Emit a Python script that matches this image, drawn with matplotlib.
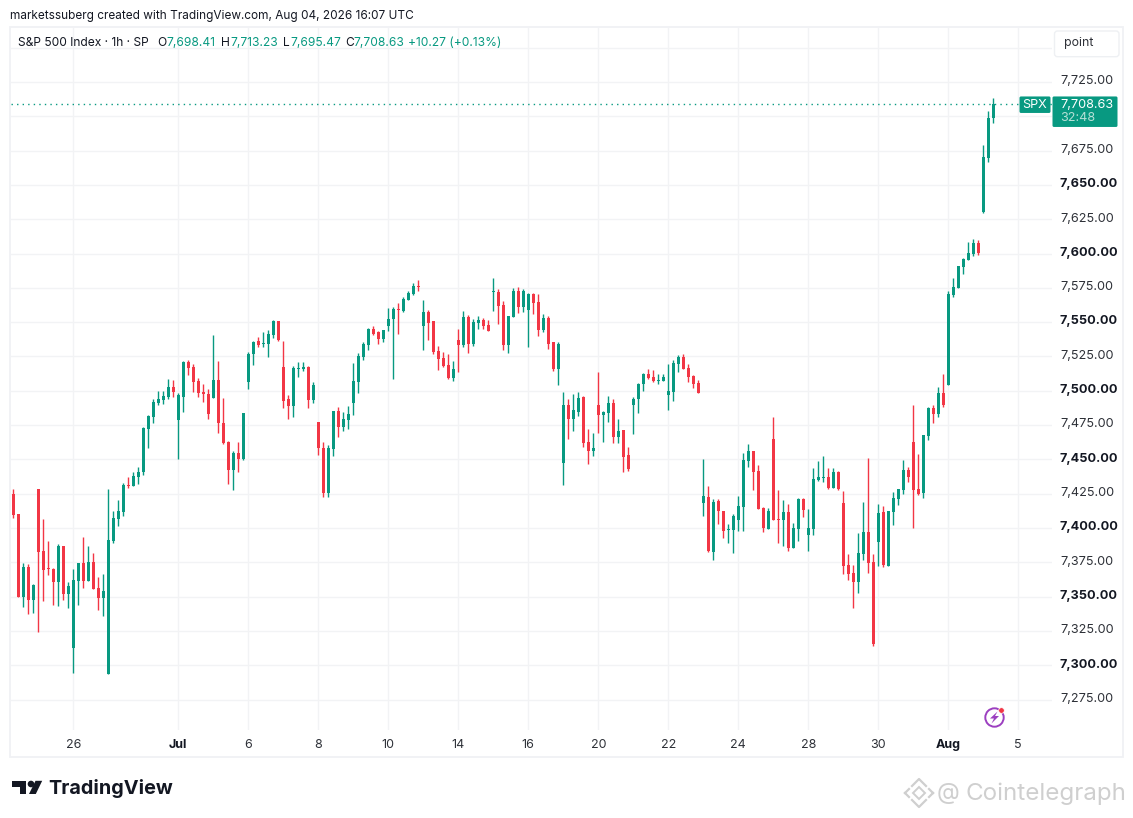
import numpy as np
import matplotlib
matplotlib.use("Agg")
import matplotlib.pyplot as plt
from matplotlib.patches import Rectangle, FancyBboxPatch, Circle, Polygon

# SPX 1h candles
opens = [
    7424.7,7410.2,7349.6,7371.5,7347.5,7428.4,7383.2,7370.8,7370.1,7360.6,
    7386.8,7351.8,7312.5,7361.3,7374.4,7361.3,7375.2,7356.2,7348.9,7293.5,
    7390.5,7406.5,7411.6,7431.3,7430.6,7437.1,7440.8,7472.1,7480.9,7491.1,
    7493.3,7495.4,7502.7,7478.7,7495.4,7521.0,7517.3,7507.1,7499.1,7497.6,
    7494.7,7507.8,7476.5,7462.6,7442.2,7454.6,7450.2,7506.4,7526.8,7536.2,
    7534.1,7534.1,7540.6,7550.8,7517.3,7494.0,7488.9,7515.8,7515.8,7517.3,
    7493.2,7477.2,7458.2,7425.4,7457.5,7485.2,7473.5,7478.6,7491.0,7506.4,
    7524.6,7533.3,7545.0,7542.8,7537.7,7547.2,7552.3,7559.6,7558.1,7566.1,
    7570.5,7576.3,7547.2,7557.4,7550.8,7529.0,7523.8,7518.7,7509.3,7537.0,
    7533.3,7553.7,7534.1,7549.4,7551.5,7547.9,7572.0,7572.0,7562.5,7533.3,
    7553.7,7572.7,7561.0,7558.8,7570.5,7564.7,7544.3,7553.0,7535.5,7515.8,
    7447.3,7489.6,7479.4,7484.5,7495.4,7462.6,7456.1,7489.6,7482.3,7483.8,
    7491.0,7466.3,7471.4,7453.1,7489.6,7494.0,7504.9,7512.2,7510.0,7507.1,
    7507.1,7496.9,7499.1,7519.5,7524.6,7516.6,7510.7,7505.6,7418.2,7422.6,
    7382.5,7419.7,7412.4,7398.5,7398.5,7405.8,7415.3,7448.8,7456.1,7441.5,
    7414.6,7399.2,7464.9,7406.5,7405.8,7411.6,7385.4,7399.2,7421.1,7394.9,
    7399.2,7435.0,7436.4,7437.2,7429.1,7440.8,7418.2,7373.0,7367.2,7360.6,
    7381.0,7397.1,7375.2,7389.8,7411.6,7372.3,7411.6,7421.1,7427.7,7442.3,
    7462.7,7428.4,7425.5,7467.0,7487.5,7483.1,7498.4,7504.2,7569.8,7574.9,
    7590.2,7595.3,7599.7,7607.7,7630.3,7669.7,7698.41,
]
highs = [
    7428.4,7410.2,7374.4,7373.7,7359.1,7428.4,7406.5,7390.5,7370.8,7388.3,
    7386.8,7360.6,7370.1,7374.4,7393.4,7386.8,7381.7,7364.2,7366.4,7428.4,
    7412.3,7420.4,7432.5,7437.1,7440.8,7444.4,7473.6,7482.3,7494.0,7499.8,
    7499.8,7508.6,7507.8,7498.4,7521.7,7522.4,7519.5,7509.3,7504.9,7501.3,
    7540.6,7521.7,7494.7,7463.4,7456.1,7462.6,7483.8,7528.3,7536.2,7539.2,
    7542.8,7544.3,7551.5,7550.8,7536.2,7496.9,7518.0,7520.9,7520.9,7518.0,
    7506.4,7477.2,7462.6,7460.4,7485.2,7488.1,7484.5,7488.9,7520.2,7527.5,
    7535.5,7545.7,7547.2,7543.5,7544.3,7560.3,7561.0,7563.9,7568.3,7572.7,
    7578.5,7580.7,7566.1,7558.8,7550.8,7532.6,7528.2,7526.8,7521.7,7545.0,
    7558.1,7555.2,7552.3,7554.5,7553.0,7551.5,7582.2,7574.1,7565.4,7554.5,
    7574.9,7575.6,7574.1,7571.2,7571.2,7570.5,7555.9,7554.5,7535.5,7535.5,
    7499.1,7494.0,7497.6,7499.1,7496.1,7472.1,7469.2,7513.6,7485.2,7496.1,
    7494.0,7479.4,7471.4,7459.0,7495.4,7505.6,7512.9,7515.8,7515.1,7512.2,
    7512.2,7519.5,7522.4,7526.0,7526.8,7519.5,7511.5,7507.8,7450.3,7430.6,
    7421.1,7421.1,7412.4,7402.9,7410.2,7423.3,7454.7,7461.2,7456.1,7445.9,
    7415.3,7414.6,7480.9,7427.7,7420.4,7417.5,7403.6,7421.8,7421.8,7413.8,
    7443.7,7448.8,7452.5,7443.7,7443.7,7441.5,7427.0,7381.0,7373.0,7396.3,
    7418.9,7451.0,7381.0,7417.5,7416.0,7412.4,7426.2,7428.4,7449.5,7444.4,
    7489.6,7453.9,7467.8,7488.2,7489.7,7502.8,7512.2,7572.7,7582.2,7590.9,
    7596.8,7608.4,7610.6,7609.9,7679.1,7703.9,7713.23,
]
lows = [
    7407.5,7349.6,7342.4,7337.3,7338.0,7324.1,7346.7,7365.7,7343.8,7343.1,
    7347.5,7341.6,7294.2,7343.8,7356.2,7361.3,7355.5,7340.2,7335.8,7293.5,
    7389.0,7401.4,7408.7,7429.1,7430.6,7432.0,7438.6,7458.3,7476.5,7489.6,
    7490.3,7494.0,7495.4,7450.2,7484.5,7511.5,7499.1,7495.4,7491.8,7479.4,
    7494.7,7469.2,7461.2,7432.0,7427.6,7440.8,7449.5,7501.3,7518.7,7531.9,
    7531.9,7524.6,7538.4,7536.2,7487.4,7479.4,7480.8,7510.0,7514.4,7487.4,
    7491.0,7453.1,7422.5,7422.5,7452.4,7466.3,7470.6,7472.1,7482.3,7498.3,
    7522.4,7529.7,7540.6,7534.1,7535.5,7543.5,7508.5,7541.3,7557.4,7566.1,
    7569.8,7572.7,7529.7,7537.0,7526.8,7515.1,7517.3,7508.5,7507.1,7513.6,
    7531.9,7527.5,7532.6,7545.0,7545.0,7543.5,7558.1,7548.6,7529.7,7527.5,
    7553.7,7556.7,7557.4,7531.9,7555.9,7539.9,7542.8,7530.4,7514.4,7504.2,
    7431.3,7464.8,7470.6,7481.6,7459.0,7446.6,7452.4,7469.2,7462.6,7477.2,
    7461.9,7461.9,7440.7,7441.5,7468.4,7483.8,7499.8,7508.5,7506.4,7504.9,
    7507.1,7485.9,7492.5,7513.6,7515.8,7506.4,7502.0,7498.3,7408.7,7382.5,
    7376.6,7402.9,7392.7,7389.0,7381.8,7397.8,7397.8,7444.4,7427.7,7413.8,
    7397.1,7399.2,7405.8,7389.0,7386.9,7383.2,7385.4,7390.5,7408.0,7383.2,
    7394.9,7434.2,7433.5,7428.4,7429.1,7427.7,7366.4,7362.1,7341.7,7352.6,
    7376.6,7367.2,7314.0,7372.3,7371.5,7372.3,7402.2,7416.7,7424.8,7433.5,
    7400.0,7424.0,7421.8,7464.1,7476.5,7480.9,7488.2,7504.2,7568.3,7574.9,
    7585.1,7595.3,7598.2,7598.9,7629.6,7666.7,7695.47,
]
closes = [
    7409.4,7349.6,7371.5,7347.5,7358.4,7382.5,7369.3,7370.1,7360.6,7386.8,
    7351.8,7357.7,7362.0,7374.4,7361.3,7375.2,7355.5,7348.9,7354.0,7391.2,
    7407.2,7412.3,7431.3,7430.6,7437.9,7440.8,7472.8,7481.6,7491.8,7494.0,
    7496.2,7502.7,7499.1,7496.9,7521.0,7516.6,7506.4,7498.4,7497.6,7483.1,
    7507.8,7476.5,7461.9,7442.2,7454.6,7450.2,7483.8,7526.8,7535.5,7533.3,
    7534.8,7541.3,7550.8,7537.0,7492.5,7488.9,7516.6,7516.6,7517.3,7493.2,
    7504.2,7458.2,7425.4,7458.2,7485.2,7473.5,7479.4,7483.0,7507.1,7525.3,
    7534.1,7545.0,7541.3,7537.7,7544.3,7552.3,7559.6,7558.8,7566.9,7571.2,
    7576.3,7575.6,7557.4,7549.4,7528.2,7523.1,7518.0,7509.3,7515.8,7533.3,
    7553.7,7534.1,7550.1,7551.5,7547.2,7543.5,7572.7,7561.8,7533.3,7554.5,
    7572.7,7561.0,7572.7,7570.5,7563.9,7544.3,7553.0,7534.1,7515.8,7534.1,
    7489.6,7479.4,7485.9,7494.7,7461.9,7456.1,7458.2,7482.3,7484.5,7491.0,
    7466.3,7470.6,7451.7,7442.9,7494.0,7504.9,7512.2,7509.3,7507.1,7507.8,
    7510.0,7499.8,7520.2,7524.6,7515.8,7510.0,7504.9,7498.3,7423.3,7383.2,
    7418.9,7412.4,7397.8,7399.2,7408.7,7416.0,7449.5,7456.1,7440.8,7413.8,
    7400.0,7412.4,7405.8,7405.8,7411.6,7385.4,7400.0,7421.1,7413.1,7400.0,
    7435.7,7437.2,7437.2,7429.1,7440.8,7428.4,7372.3,7366.4,7360.6,7381.8,
    7397.1,7374.5,7315.4,7410.9,7373.0,7412.4,7421.8,7428.4,7442.3,7437.2,
    7427.7,7424.8,7467.8,7487.5,7483.1,7498.4,7489.7,7570.5,7575.6,7590.9,
    7596.0,7600.4,7607.7,7600.4,7670.4,7698.8,7708.63,
]

# time axis: candle index of each label
time_ticks = [12, 33, 47, 61, 75, 89, 103, 117, 131, 145, 159, 173, 187, 201]
time_labels = ["26", "Jul", "6", "8", "10", "14", "16", "20", "22", "24", "28", "30", "Aug", "5"]
bold_times = ["Jul", "Aug"]

price_ticks = [7275, 7300, 7325, 7350, 7375, 7400, 7425, 7450, 7475, 7500,
               7525, 7550, 7575, 7600, 7625, 7650, 7675, 7700, 7725, 7750]
bold_prices = [7300, 7350, 7400, 7450, 7500, 7550, 7600, 7650]
hidden_prices = [7700, 7750]

UP = "#089981"
DOWN = "#F23645"
GRID = "#F2F3F5"
TEXT = "#131722"
LABEL = "#2E3138"
W, H = 1133, 818

plt.rcParams["font.family"] = ["Inter", "DejaVu Sans"]

fig = plt.figure(figsize=(W / 100, H / 100), dpi=100, facecolor="white")

# overlay in screen pixels for the chrome (panel frame, tags, logos)
over = fig.add_axes([0, 0, 1, 1], zorder=5)
over.set_xlim(0, W)
over.set_ylim(H, 0)
over.axis("off")

left, right, top, bottom = 11, 1052, 28, 730
ax = fig.add_axes([left / W, 1 - bottom / H, (right - left) / W, (bottom - top) / H], zorder=1)
ax.set_xlim((left - 13.3) / 5, (right - 13.3) / 5)
ax.set_ylim(7300 - (bottom - 665.3) / 1.3725, 7300 + (665.3 - top) / 1.3725)
for s in ax.spines.values():
    s.set_visible(False)

x = np.arange(len(opens))
o, h, l, c = map(np.array, (opens, highs, lows, closes))
colors = [UP if cc >= oo else DOWN for oo, cc in zip(o, c)]

ax.vlines(x, l, h, colors=colors, lw=1.0, zorder=3)
ax.bar(x, np.maximum(np.abs(c - o), 0.7), bottom=np.minimum(o, c), width=0.62, color=colors, lw=0, zorder=4)

ax.set_axisbelow(True)
ax.set_xticks(time_ticks)
ax.set_yticks(price_ticks)
ax.grid(True, color=GRID, lw=1.0)
ax.tick_params(length=0, labelbottom=False, labelleft=False)

# axis labels
for t, lab in zip(time_ticks, time_labels):
    is_bold = lab in bold_times
    ax.annotate(lab, (t, 0), xycoords=("data", "axes fraction"), xytext=(0, -15), textcoords="offset pixels",
                ha="center", va="center", fontsize=9, color=TEXT if is_bold else LABEL,
                fontweight="bold" if is_bold else "normal")
for p in price_ticks:
    if p in hidden_prices:
        continue
    is_bold = p in bold_prices
    ax.annotate(f"{p:,.2f}", (1, p), xycoords=("axes fraction", "data"), xytext=(8, 0.7), textcoords="offset pixels",
                ha="left", va="center", fontsize=9.1, color=TEXT if is_bold else LABEL,
                fontweight="bold" if is_bold else "normal")

# last price line and tags
last = closes[-1]
ax.axhline(last, color=UP, lw=1.0, ls=(0, (1, 3)), zorder=2)
fig.canvas.draw()
ty = H - ax.transData.transform((0, last))[1]
over.add_patch(FancyBboxPatch((1019.5, ty - 8), 31, 16.5, boxstyle="round,pad=0,rounding_size=1.5", fc=UP, ec="none"))
over.add_patch(FancyBboxPatch((1052.5, ty - 8), 65, 30.5, boxstyle="round,pad=0,rounding_size=1.5", fc=UP, ec="none"))
over.text(1035, ty + 0.3, "SPX", color="white", fontsize=9.1, ha="center", va="center")
over.text(1060.5, ty + 0.3, f"{last:,.2f}", color="white", fontsize=9.1, ha="left", va="center")
over.text(1060.5, ty + 14, "32:48", color="#B5E0D6", fontsize=9.1, ha="left", va="center")

# panel frame
over.add_patch(Rectangle((10, 27), 1112.5, 730, fc="none", ec="#F0F1F4", lw=1.3))

# header and legend
over.text(10, 15.5, "marketssuberg created with TradingView.com, Aug 04, 2026 16:07 UTC",
          fontsize=8.5, color=TEXT, ha="left", va="center")
over.text(18, 43, "S&P 500 Index · 1h · SP", fontsize=8.65, color=TEXT, ha="left", va="center")
for label, lx, val, vx in [("O", 157, "7,698.41", 166), ("H", 221, "7,713.23", 230),
                           ("L", 283, "7,695.47", 290), ("C", 345, "7,708.63", 353)]:
    over.text(lx, 43, label, fontsize=8.65, color=TEXT, ha="left", va="center")
    over.text(vx, 43, val, fontsize=8.65, color=UP, ha="left", va="center")
over.text(408.5, 43, "+10.27 (+0.13%)", fontsize=8.65, color=UP, ha="left", va="center")

# scale button
over.add_patch(FancyBboxPatch((1054.5, 31), 64.5, 25.7, boxstyle="round,pad=0,rounding_size=3", fc="white", ec="#EEF0F3", lw=1))
over.text(1078.5, 43, "point", fontsize=8.9, color=LABEL, ha="center", va="center")

# lightning badge
over.add_patch(Circle((994.5, 717.5), 9.2, fc="white", ec="#9C3FC0", lw=1.4))
over.add_patch(Polygon([(997.5, 711.5), (990, 718.5), (994, 718.5), (991.5, 723.5), (999, 716), (995, 716)],
                       fc="#9C3FC0", ec="none"))
over.add_patch(Circle((1001.5, 710.5), 2.8, fc=DOWN, ec="white", lw=0.5))

# TradingView logo
LOGO = "#131722"
over.add_patch(Polygon([(12.3, 780.8), (26, 780.8), (26, 794), (19.5, 794), (19.5, 787.2), (12.3, 787.2)], fc=LOGO, ec="none"))
over.add_patch(Circle((31, 784), 3.3, fc=LOGO, ec="none"))
over.add_patch(Polygon([(35.5, 780.8), (42.2, 780.8), (35.8, 794), (29, 794)], fc=LOGO, ec="none"))
over.text(48.5, 788, "TradingView", fontsize=14.3, fontweight="bold", color=LOGO, ha="left", va="center")

# watermark
MARK = "#CFCFCF"
cx, cy = 919, 793
over.add_patch(Polygon([(cx, cy - 6), (cx + 6, cy), (cx, cy + 6), (cx - 6, cy)], fc="white", ec=MARK, lw=1.4))
over.plot([cx - 7, cx, cx + 7], [cy - 7, cy - 14, cy - 7], color=MARK, lw=1.6)
over.plot([cx - 7, cx, cx + 7], [cy + 7, cy + 14, cy + 7], color=MARK, lw=1.6)
over.plot([cx - 14, cx - 10], [cy, cy - 4], color=MARK, lw=1.6)
over.plot([cx - 14, cx - 10], [cy, cy + 4], color=MARK, lw=1.6)
over.plot([cx + 14, cx + 10], [cy, cy - 4], color=MARK, lw=1.6)
over.plot([cx + 14, cx + 10], [cy, cy + 4], color=MARK, lw=1.6)
over.text(937, 793, "@", fontsize=17, color=MARK, ha="left", va="center")
over.text(965.5, 793.5, "Cointelegraph", fontsize=17.4, color=MARK, ha="left", va="center")

fig.savefig("out.png", dpi=100, facecolor="white")
